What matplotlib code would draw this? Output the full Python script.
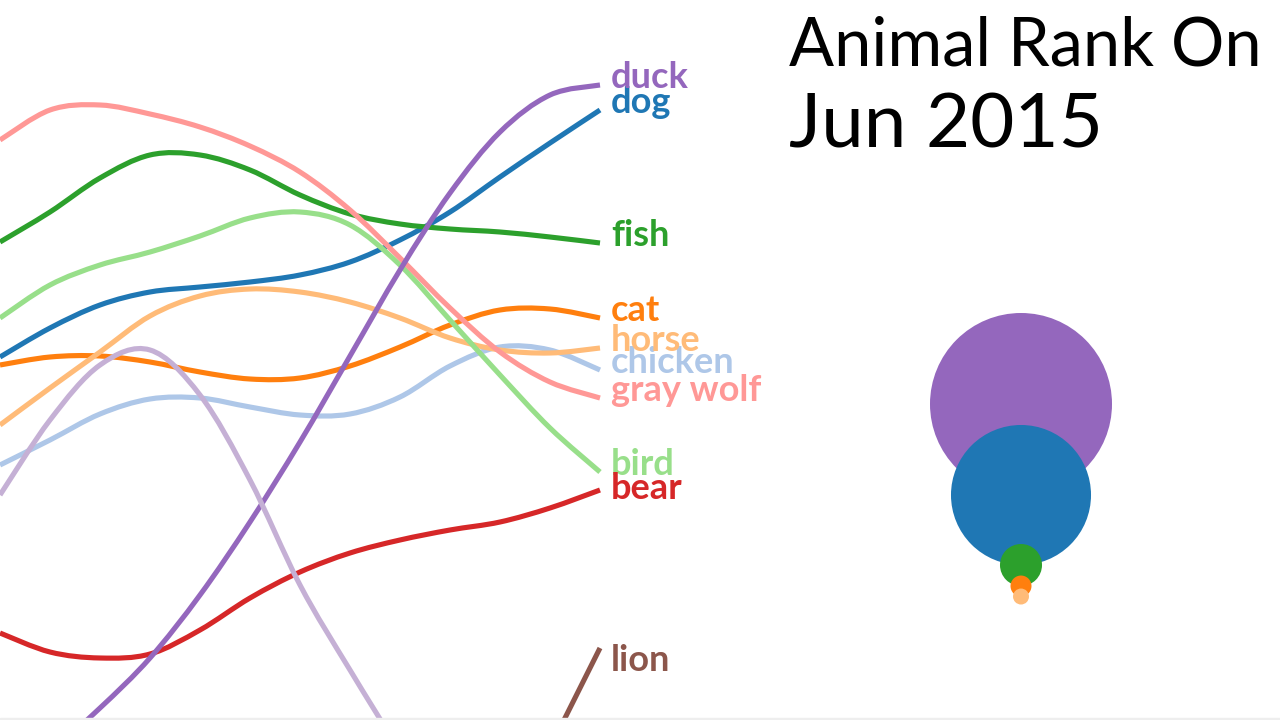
import numpy as np
import matplotlib
matplotlib.use("Agg")
import matplotlib.pyplot as plt
from matplotlib.path import Path
from matplotlib.patches import PathPatch, Circle

# ---------------- data ----------------
months = ["Jun 2014", "Jul 2014", "Aug 2014", "Sep 2014", "Oct 2014", "Nov 2014",
          "Dec 2014", "Jan 2015", "Feb 2015", "Mar 2015", "Apr 2015", "May 2015",
          "Jun 2015"]
current_month = "Jun 2015"

animals = ["dog", "chicken", "cat", "horse", "fish", "bird", "bear",
           "gray wolf", "duck", "pig", "lion"]
colors = ["#1f77b4", "#aec7e8", "#ff7f0e", "#ffbb78", "#2ca02c", "#98df8a",
          "#d62728", "#ff9896", "#9467bd", "#c5b0d5", "#8c564b"]

dog       = [64.3, 67.2, 69.5, 70.8, 71.3, 71.8, 72.5, 73.8, 76.0, 78.8, 82.3, 85.7, 89.0]
chicken   = [53.5, 56.0, 58.6, 60.1, 60.2, 59.3, 58.5, 58.6, 60.3, 63.4, 65.3, 65.0, 63.0]
cat       = [63.5, 64.3, 64.4, 63.8, 62.8, 62.1, 62.2, 63.4, 65.3, 67.5, 69.0, 69.1, 68.2]
horse     = [57.5, 61.2, 64.8, 68.4, 70.4, 71.1, 70.8, 69.8, 68.2, 66.2, 65.0, 64.7, 65.2]
fish      = [75.8, 78.8, 82.2, 84.5, 84.5, 83.0, 80.5, 78.6, 77.6, 77.1, 76.8, 76.3, 75.7]
bird      = [68.2, 71.5, 73.5, 74.8, 76.4, 78.2, 78.8, 77.5, 73.5, 68.0, 62.5, 57.2, 52.8]
bear      = [36.7, 34.8, 34.2, 34.6, 37.0, 40.2, 42.8, 44.7, 46.0, 47.0, 47.8, 49.2, 51.0]
gray_wolf = [86.0, 89.0, 89.5, 88.6, 87.3, 85.4, 82.8, 79.0, 74.2, 69.2, 64.8, 61.8, 60.2]
duck      = [21.0, 24.8, 29.2, 34.2, 40.5, 47.8, 55.8, 64.4, 73.0, 80.7, 86.8, 90.5, 91.5]
pig       = [50.5, 58.0, 63.5, 65.0, 60.5, 52.0, 41.5, 33.0, 25.0, 18.0, 12.0, 7.0, 3.0]
lion      = [None, None, None, None, None, None, None, None, None, None, 15.2, 25.2, 35.2]

series = [dog, chicken, cat, horse, fish, bird, bear, gray_wolf, duck, pig, lion]

# bubble chart for the current month (top ranked animals)
bubble_animals = ["duck", "dog", "fish", "cat", "horse"]
bubble_values = [100.0, 59.2, 5.33, 1.33, 0.77]

# ---------------- figure ----------------
fig = plt.figure(figsize=(12.8, 7.2), dpi=100)
fig.patch.set_facecolor("white")

ax = fig.add_axes([0, 0, 1, 1])
ax.set_xlim(0, 25.6)
ax.set_ylim(28, 100)
ax.axis("off")


def smooth_path(xs, ys):
    P = np.column_stack([xs, ys]).astype(float)
    n = len(P)
    verts = [P[0]]
    codes = [Path.MOVETO]
    for i in range(n - 1):
        p0 = P[i - 1] if i > 0 else P[i]
        p1 = P[i]
        p2 = P[i + 1]
        p3 = P[i + 2] if i + 2 < n else P[i + 1]
        c1 = p1 + (p2 - p0) / 6.0
        c2 = p2 - (p3 - p1) / 6.0
        verts += [c1, c2, p2]
        codes += [Path.CURVE4] * 3
    return Path(verts, codes)


label_dy = {"lion": -14, "bear": -4}

x_idx = np.arange(len(months))
for name, col, vals in zip(animals, colors, series):
    pts = [(x, v) for x, v in zip(x_idx, vals) if v is not None]
    xs = [p[0] for p in pts]
    ys = [p[1] for p in pts]
    patch = PathPatch(smooth_path(xs, ys), facecolor="none", edgecolor=col,
                      lw=3.7, capstyle="butt", joinstyle="round")
    ax.add_patch(patch)
    ax.annotate(name, xy=(xs[-1], ys[-1]),
                xytext=(8, -2.5 + label_dy.get(name, 0)), textcoords="offset points",
                color=col, fontsize=26, fontweight="bold", family="Lato",
                va="baseline", ha="left", annotation_clip=True)

# faint bottom strip
fig.patches.append(plt.Rectangle((0, 0), 1, 0.003, transform=fig.transFigure,
                                 color="#eeeeee", zorder=0))

# title
fig.text(789 / 1280, 1 - 65 / 720, "Animal Rank On", fontsize=48, family="Lato",
         color="black", ha="left", va="baseline")
fig.text(789 / 1280, 1 - 147 / 720, current_month, fontsize=55, family="Lato",
         color="black", ha="left", va="baseline")

# bubbles: stacked, each next centre at the bottom of the previous circle
bax = fig.add_axes([0, 0, 1, 1])
bax.set_xlim(0, 1280)
bax.set_ylim(720, 0)
bax.axis("off")
bax.patch.set_alpha(0)
cmap = dict(zip(animals, colors))
r_max = 91.0
cx, cy = 1021.0, 404.0
vmax = max(bubble_values)
for name, v in zip(bubble_animals, bubble_values):
    r = r_max * np.sqrt(v / vmax)
    bax.add_patch(Circle((cx, cy), r, facecolor=cmap[name], edgecolor="none"))
    cy = cy + r

fig.savefig("out.png", dpi=100)
